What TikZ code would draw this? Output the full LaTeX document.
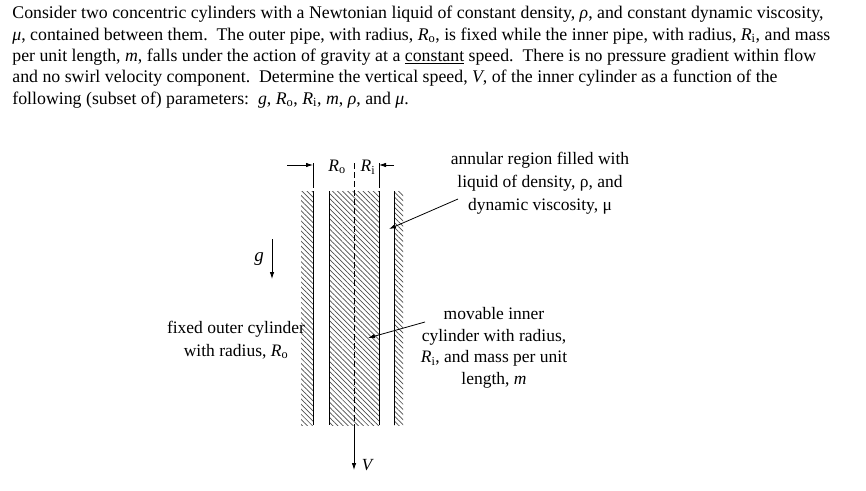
\documentclass[tikz,border=0pt]{standalone}
\usepackage{fontspec}
\setmainfont{Liberation Serif}
\usetikzlibrary{patterns.meta,arrows.meta}
\begin{document}
\begin{tikzpicture}[x=1pt,y=-1pt,line width=0.8pt,
  para/.style={anchor=west,inner sep=0pt,font=\fontsize{17.8}{20}\selectfont},
  lbl/.style={inner sep=0pt,font=\fontsize{17.5}{23}\selectfont,align=center},
  hatch/.style={pattern={Lines[angle=-45,distance=3.6pt,line width=0.7pt]},pattern color=black!70},
  arr/.style={-{Latex[length=7pt,width=4.5pt]}}]
\useasboundingbox (0,0) rectangle (866,490);
\node[para] (p1) at (12,14) {Consider two concentric cylinders with a Newtonian liquid of constant density, \textit{ρ}, and constant dynamic viscosity,};
\node[para] (p2) at (12,36) {\textit{μ}, contained between them.\ \ The outer pipe, with radius, \textit{R}\textsubscript{o}, is fixed while the inner pipe, with radius, \textit{R}\textsubscript{i}, and mass};
\node[para] (p3) at (12,57) {per unit length, \textit{m}, falls under the action of gravity at a \underline{constant} speed.\ \ There is no pressure gradient within flow};
\node[para] (p4) at (12,78) {and no swirl velocity component.\ \ Determine the vertical speed, \textit{V}, of the inner cylinder as a function of the};
\node[para] (p5) at (12,100) {following (subset of) parameters:\ \ \textit{g}, \textit{R}\textsubscript{o}, \textit{R}\textsubscript{i}, \textit{m}, \textit{ρ}, and \textit{μ}.};
% walls
\fill[hatch] (301,191) rectangle (313,425);
\draw (313,191) -- (313,425);
\fill[hatch] (329,191) rectangle (379,425);
\draw (329,191) -- (329,425) (379,191) -- (379,425);
\fill[hatch] (394,191) rectangle (403,425);
\draw (394,191) -- (394,425);
% dimension lines
\draw (313,163) -- (313,188) (379,163) -- (379,188);
\coordinate (dl) at (287,165); \coordinate (dlt) at (313,165);
\coordinate (dr) at (394,165); \coordinate (drt) at (379,165);
\draw[arr] (dl) -- (dlt);
\draw[arr] (dr) -- (drt);
\node[lbl] (ro) at (337,167) {\textit{R}\textsubscript{o}};
\node[lbl] (ri) at (368,167) {\textit{R}\textsubscript{i}};
\coordinate (ctop) at (354,163); \coordinate (cbot) at (354,470);
\draw[dash pattern=on 6pt off 3pt] (ctop) -- (354,425);
\draw[arr] (354,425) -- (cbot);
\node[lbl,font=\itshape\fontsize{17}{18}\selectfont] (V) at (367,465) {V};
% gravity
\coordinate (g1) at (272,239); \coordinate (g2) at (272,279);
\draw[arr] (g1) -- (g2);
\node[lbl,font=\itshape\fontsize{19}{20}\selectfont] (g) at (259,259) {g};
% labels
\node[lbl] (ann) at (540,183) {annular region filled with\\liquid of density, ρ, and\\dynamic viscosity, μ};
\node[lbl,font=\fontsize{17.5}{21.5}\selectfont] (inner) at (494,348) {movable inner\\cylinder with radius,\\\textit{R}\textsubscript{i}, and mass per unit\\length, \textit{m}};
\node[lbl,font=\fontsize{17.5}{23}\selectfont] (outer) at (236,340) {fixed outer cylinder\\with radius, \textit{R}\textsubscript{o}};
\coordinate (a1) at (458,199); \coordinate (a1t) at (389,229);
\coordinate (a2) at (425,322); \coordinate (a2t) at (368,338);
\draw[arr] (a1) -- (a1t);
\draw[arr] (a2) -- (a2t);
\end{tikzpicture}
\end{document}
